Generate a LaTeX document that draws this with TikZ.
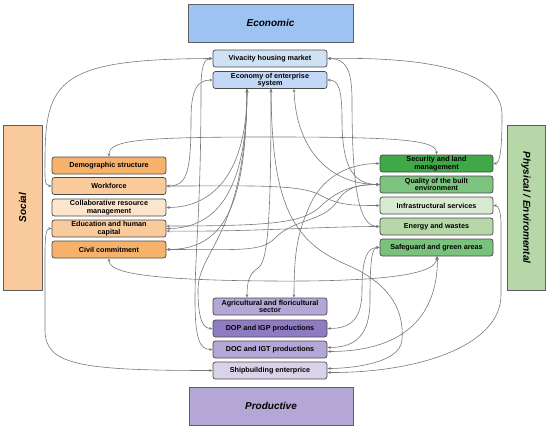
\documentclass[tikz,border=0pt]{standalone}
\usepackage{fontspec}
\setmainfont{Liberation Sans}
\usetikzlibrary{arrows.meta,calc}
\definecolor{catborder}{HTML}{5F5F5F}
\definecolor{nodeborder}{HTML}{4A4A4A}
\definecolor{linkgray}{HTML}{787878}
\definecolor{ecoC}{HTML}{9DC3F2}
\definecolor{vivC}{HTML}{CFE2F3}
\definecolor{econC}{HTML}{C2D8F6}
\definecolor{socC}{HTML}{F9CB9C}
\definecolor{demoC}{HTML}{F6B26B}
\definecolor{workC}{HTML}{F9CB9C}
\definecolor{collabC}{HTML}{FCE5CD}
\definecolor{phyC}{HTML}{B6D7A8}
\definecolor{secC}{HTML}{3FA947}
\definecolor{qualC}{HTML}{7CC47F}
\definecolor{infraC}{HTML}{D9EAD3}
\definecolor{energyC}{HTML}{B6D7A8}
\definecolor{safeC}{HTML}{78C27C}
\definecolor{proC}{HTML}{B4A7D6}
\definecolor{dopC}{HTML}{8E7CC3}
\definecolor{shipC}{HTML}{D9D2E9}
\begin{document}
\begin{tikzpicture}[x=1pt,y=-1pt,
  cat/.style={draw=catborder, line width=0.9pt, inner sep=0pt,
    font=\fontsize{10}{12}\selectfont\bfseries\itshape},
  item/.style={draw=nodeborder, line width=0.7pt, rounded corners=2.5pt,
    minimum width=114pt, minimum height=17pt, inner sep=0.5pt, align=center,
    font=\fontsize{7.2}{7.6}\selectfont\bfseries},
  link/.style={draw=linkgray, line width=0.6pt,
    {Stealth[length=3.4pt,width=2.8pt]}-{Stealth[length=3.4pt,width=2.8pt]}},
]
\useasboundingbox (0,0) rectangle (550,429);

% category boxes
\node[cat, fill=ecoC, minimum width=165pt, minimum height=38pt] (eco) at (270.5,23) {Economic};
\node[cat, fill=socC, rotate=90, minimum width=165pt, minimum height=39pt] (soc) at (22.5,207.5) {Social};
\node[cat, fill=phyC, rotate=-90, minimum width=165pt, minimum height=38pt] (phy) at (526,207.5) {Physical / Enviromental};
\node[cat, fill=proC, minimum width=164pt, minimum height=38pt] (pro) at (271,406) {Productive};

% economic
\node[item, fill=vivC] (viv) at (270,58.5) {Vivacity housing market};
\node[item, fill=econC] (econ) at (270,80) {Economy of enterprise\\system};

% social
\node[item, fill=demoC] (demo) at (109,165.5) {Demographic structure};
\node[item, fill=workC] (work) at (109,186) {Workforce};
\node[item, fill=collabC] (collab) at (109,207.5) {Collaborative resource\\management};
\node[item, fill=workC] (edu) at (109,228.5) {Education and human\\capital};
\node[item, fill=demoC] (civil) at (109,249.5) {Civil commitment};

% physical
\node[item, fill=secC, minimum width=113pt] (sec) at (436.5,163.5) {Security and land\\management};
\node[item, fill=qualC, minimum width=113pt] (qual) at (436.5,184.5) {Quality of the built\\environment};
\node[item, fill=infraC, minimum width=113pt] (infra) at (436.5,205.5) {Infrastructural services};
\node[item, fill=energyC, minimum width=113pt] (energy) at (436.5,226.5) {Energy and wastes};
\node[item, fill=safeC, minimum width=113pt] (safe) at (436.5,247.5) {Safeguard and green areas};

% productive
\node[item, fill=proC] (agri) at (270,306.5) {Agricultural and floricultural\\sector};
\node[item, fill=dopC] (dop) at (270,328.5) {DOP and IGP productions};
\node[item, fill=proC] (doc) at (270,349.5) {DOC and IGT productions};
\node[item, fill=shipC] (ship) at (270,370.5) {Shipbuilding enterprice};

% connectors
\draw[link] (work.west) .. controls (44,186) and (45,176) .. (45,160) .. controls (45,80) and (60,59) .. (viv.west);
\draw[link] (viv.east) .. controls (420,57) and (502,68) .. (502,115) .. controls (502,150) and (500,163.5) .. (sec.east);
\draw[link] (demo.north) .. controls (109,140) and (140,137) .. (270,137) .. controls (400,137) and (436.5,140) .. (sec.north);
\draw[link] (econ.west) .. controls (196,80) and (191,92) .. (191,120) .. controls (191,175) and (186,186) .. (work.east);
\draw[link] (viv.west) .. controls (204,58.5) and (201,66) .. (201,90) .. controls (201,210) and (195,250) .. (195,300) .. controls (195,340) and (200,349.5) .. (doc.west);

\draw[link] ($(econ.south)+(-23,0)$) .. controls (247,170) and (215,207.5) .. (collab.east);
\draw[link] ($(econ.south)+(-23,0)$) .. controls (247,185) and (220,228.5) .. (edu.east);
\draw[link] ($(econ.south)+(-23,0)$) .. controls (246,205) and (225,249.5) .. (civil.east);
\draw[link] ($(econ.south)+(-23,0)$) .. controls (246,235) and (198,250) .. (198,290) .. controls (198,322) and (204,328.5) .. (dop.west);

\draw[link] ($(econ.south)+(1,0)$) .. controls (271,220) and (268,262) .. (258,268) .. controls (249,274) and (247,282) .. ($(agri.north)+(-23,0)$);
\draw[link] ($(econ.south)+(1,0)$) .. controls (272,200) and (290,240) .. (345,264) .. controls (395,285) and (404,315) .. (402,340) .. controls (400,365) and (345,368.5) .. ($(ship.east)+(0,-2)$);
\draw[link] ($(econ.south)+(24,0)$) .. controls (296,150) and (330,184.5) .. (qual.west);
\draw[link] (econ.east) .. controls (338,80) and (342,88) .. (342,120) .. controls (342,170) and (355,184.5) .. (qual.west);
\draw[link] (viv.east) .. controls (345,58.5) and (352,68) .. (352,100) .. controls (352,195) and (360,226.5) .. (energy.west);

\draw[link] (work.east) .. controls (250,186) and (300,184) .. (320,195) .. controls (338,205) and (350,205.5) .. (infra.west);
\draw[link] ($(edu.east)+(0,2.5)$) .. controls (250,232) and (320,226.5) .. (energy.west);
\draw[link] ($(edu.east)+(0,-2.5)$) .. controls (280,226) and (305,222) .. (322,205) .. controls (338,190) and (355,184.5) .. (qual.west);
\draw[link] (civil.east) .. controls (240,249.5) and (262,252) .. (275,238) .. controls (295,218) and (325,222) .. (338,200) .. controls (348,186) and (360,184.5) .. (qual.west);

\draw[link] ($(agri.north)+(24,0)$) .. controls (294,250) and (298,232) .. (310,205) .. controls (325,172) and (355,163.5) .. (sec.west);
\draw[link] (civil.south) .. controls (109,272) and (140,280) .. (270,281) .. controls (400,282) and (437,272) .. (safe.south);
\draw[link] (edu.west) .. controls (46,228.5) and (45,236) .. (45,255) -- (45,330) .. controls (45,365) and (80,370.5) .. (ship.west);
\draw[link] (dop.east) .. controls (352,328.5) and (362,318) .. (362,290) .. controls (362,256) and (368,247.5) .. (safe.west);
\draw[link] ($(doc.east)+(0,-2)$) .. controls (356,347.5) and (370,335) .. (370,300) .. controls (370,258) and (372,247.5) .. (safe.west);
\draw[link] ($(doc.east)+(0,2)$) .. controls (400,351.5) and (437.5,320) .. ($(safe.south)+(1,0)$);
\draw[link] ($(ship.east)+(0,2)$) .. controls (420,373) and (501,345) .. (501,295) -- (501,225) .. controls (501,210) and (498,205.5) .. (infra.east);
\end{tikzpicture}
\end{document}
